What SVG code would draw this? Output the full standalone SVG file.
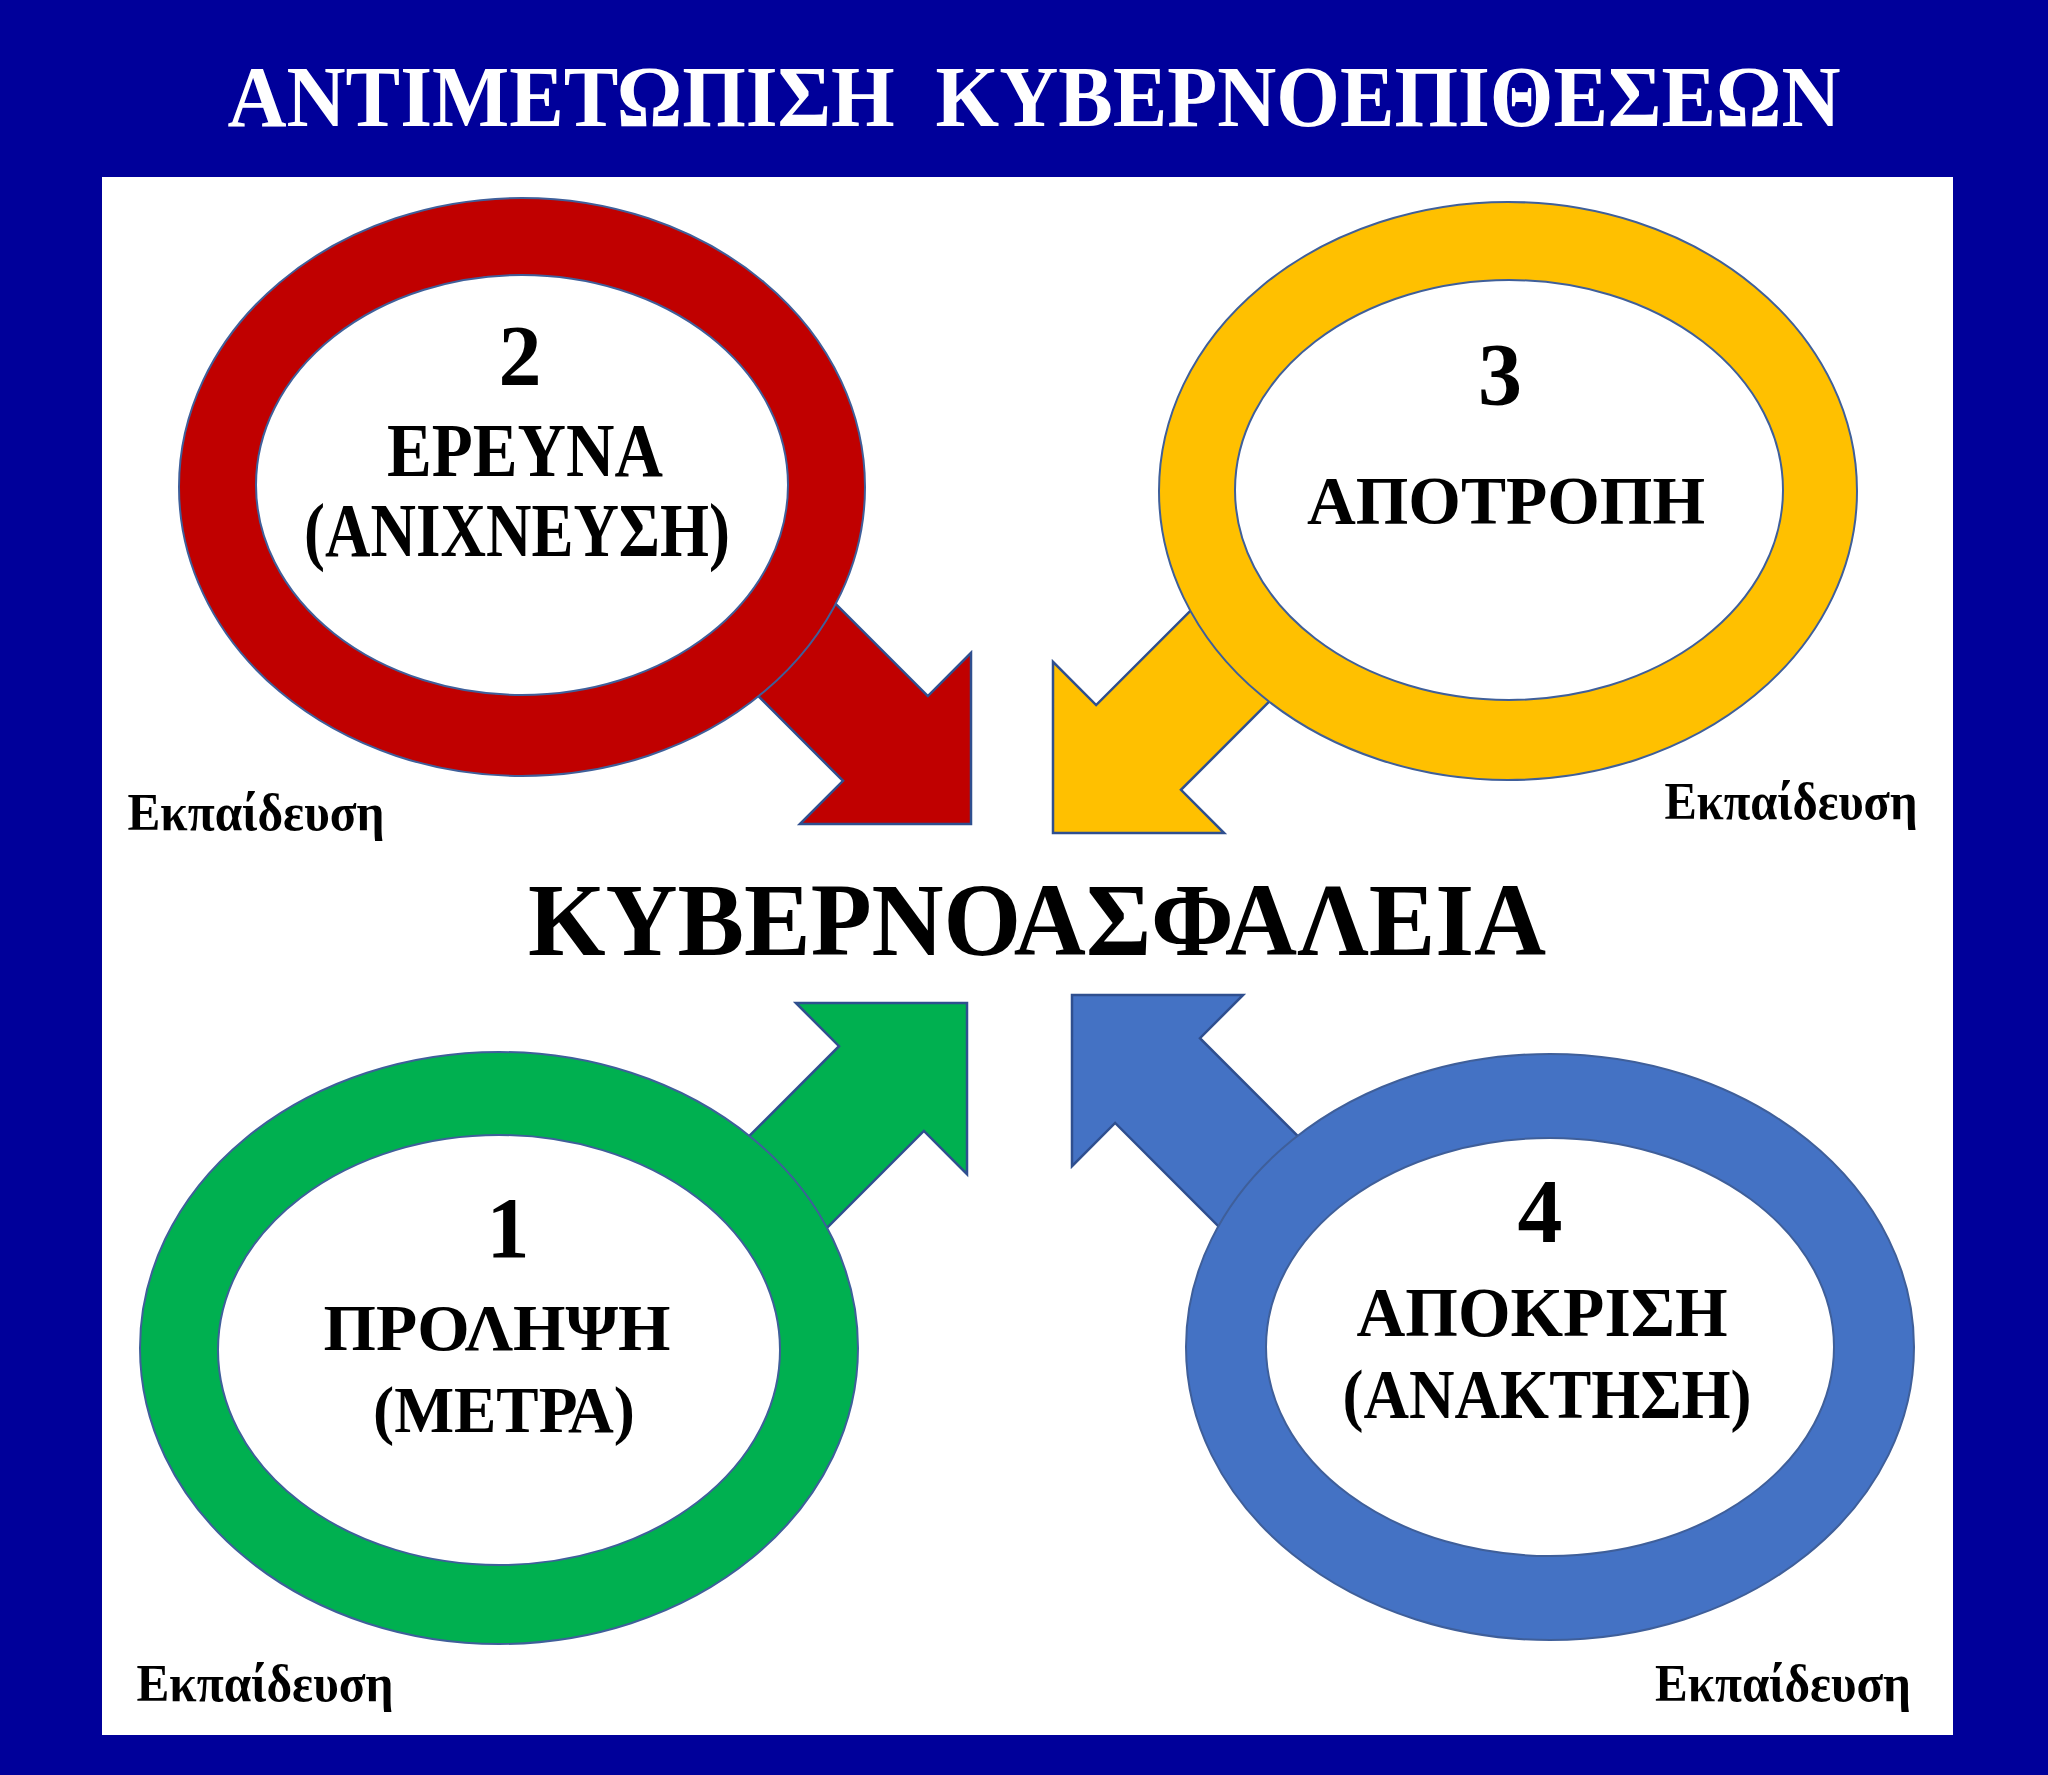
<svg xmlns="http://www.w3.org/2000/svg" xmlns:xlink="http://www.w3.org/1999/xlink" width="2048" height="1775" viewBox="0 0 2048 1775">
<style>
.t{font-family:"Liberation Serif","Times New Roman",serif;font-weight:bold;fill:#000;text-anchor:middle}
.title{font-family:"Liberation Serif","Times New Roman",serif;font-weight:bold;fill:#fff;text-anchor:middle}
.ring{stroke:#3F5F9A;stroke-width:2}
.hole{fill:#fff;stroke:#3F5F9A;stroke-width:2}
.arr{stroke:#2F4F8F;stroke-width:2.5;stroke-linejoin:miter}
</style>
<defs>
<path id="arrow" d="M0,0 L-121,-121 L-121,-60 L-450,-60 L-450,60 L-121,60 L-121,121 Z"/>
</defs>
<rect x="0" y="0" width="2048" height="1775" fill="#00009A"/>
<rect x="102" y="177" width="1851" height="1558" fill="#fff"/>
<text class="title" x="1034" y="126" font-size="86" textLength="1613" lengthAdjust="spacingAndGlyphs" xml:space="preserve">ΑΝΤΙΜΕΤΩΠΙΣΗ  ΚΥΒΕΡΝΟΕΠΙΘΕΣΕΩΝ</text>

<g id="connectors">
<use xlink:href="#arrow" class="arr" fill="#C00000" transform="translate(971,824) rotate(45)"/>
<use xlink:href="#arrow" class="arr" fill="#FFC000" transform="translate(1053,833) rotate(135)"/>
<use xlink:href="#arrow" class="arr" fill="#00B050" transform="translate(967,1003) rotate(-45)"/>
<use xlink:href="#arrow" class="arr" fill="#4472C4" transform="translate(1072,995) rotate(-135)"/>
</g>

<g id="node-2">
<ellipse class="ring" cx="522" cy="487" rx="343" ry="289" fill="#C00000"/>
<ellipse class="hole" cx="522" cy="485" rx="266" ry="210"/>
<text class="t" x="520" y="385" font-size="86">2</text>
<text class="t" x="525" y="476" font-size="76" textLength="276" lengthAdjust="spacingAndGlyphs">ΕΡΕΥΝΑ</text>
<text class="t" x="517" y="556" font-size="76" textLength="426" lengthAdjust="spacingAndGlyphs">(ΑΝΙΧΝΕΥΣΗ)</text>
</g>

<g id="node-3">
<ellipse class="ring" cx="1508" cy="491" rx="349" ry="289" fill="#FFC000"/>
<ellipse class="hole" cx="1509" cy="490" rx="274" ry="210"/>
<text class="t" x="1500" y="404" font-size="88">3</text>
<text class="t" x="1506" y="523" font-size="68" textLength="398" lengthAdjust="spacingAndGlyphs">ΑΠΟΤΡΟΠΗ</text>
</g>

<g id="node-1">
<ellipse class="ring" cx="499" cy="1348" rx="359" ry="296" fill="#00B050"/>
<ellipse class="hole" cx="499" cy="1350" rx="281" ry="215"/>
<text class="t" x="508" y="1257" font-size="86">1</text>
<text class="t" x="497" y="1350" font-size="66" textLength="347" lengthAdjust="spacingAndGlyphs">ΠΡΟΛΗΨΗ</text>
<text class="t" x="504" y="1432" font-size="66" textLength="262" lengthAdjust="spacingAndGlyphs">(ΜΕΤΡΑ)</text>
</g>

<g id="node-4">
<ellipse class="ring" cx="1550" cy="1347" rx="364" ry="293" fill="#4472C4"/>
<ellipse class="hole" cx="1550" cy="1347" rx="284" ry="209"/>
<text class="t" x="1540" y="1242" font-size="90">4</text>
<text class="t" x="1542" y="1336" font-size="70" textLength="371" lengthAdjust="spacingAndGlyphs">ΑΠΟΚΡΙΣΗ</text>
<text class="t" x="1547" y="1418" font-size="70" textLength="409" lengthAdjust="spacingAndGlyphs">(ΑΝΑΚΤΗΣΗ)</text>
</g>

<g id="center">
<text class="t" x="1037" y="955" font-size="103" textLength="1018" lengthAdjust="spacingAndGlyphs">ΚΥΒΕΡΝΟΑΣΦΑΛΕΙΑ</text>
</g>

<g id="labels">
<text class="t" x="256" y="830" font-size="52" textLength="257" lengthAdjust="spacingAndGlyphs">Εκπαίδευση</text>
<text class="t" x="1791" y="819" font-size="52" textLength="253" lengthAdjust="spacingAndGlyphs">Εκπαίδευση</text>
<text class="t" x="265" y="1701" font-size="52" textLength="257" lengthAdjust="spacingAndGlyphs">Εκπαίδευση</text>
<text class="t" x="1783" y="1701" font-size="52" textLength="256" lengthAdjust="spacingAndGlyphs">Εκπαίδευση</text>
</g>
</svg>
